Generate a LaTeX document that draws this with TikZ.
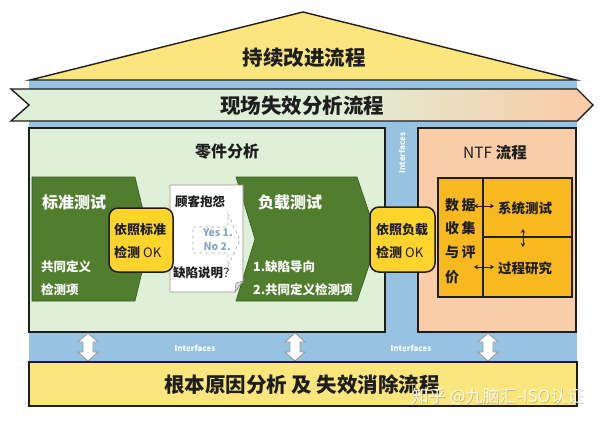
\documentclass[tikz,border=0pt]{standalone}
\usepackage{fontspec}
\setmainfont{Noto Sans CJK SC}
\usetikzlibrary{arrows.meta}
\definecolor{roofY}{RGB}{250,230,125}
\definecolor{bandB}{RGB}{150,195,226}
\definecolor{lgreen}{RGB}{223,240,216}
\definecolor{peach}{RGB}{248,205,168}
\definecolor{dgreen}{RGB}{80,126,46}
\definecolor{boxY}{RGB}{255,213,45}
\definecolor{ntfO}{RGB}{247,184,32}
\definecolor{ink}{RGB}{30,30,30}
\definecolor{yesno}{RGB}{135,165,200}
\definecolor{paperG}{RGB}{150,150,150}
\pgfdeclarehorizontalshading{bandshade}{100bp}{color(0bp)=(lgreen); color(25bp)=(lgreen); color(52bp)=(lgreen); color(73bp)=(peach); color(100bp)=(peach)}
\newcommand\fsz[1]{\fontsize{#1}{#1}\selectfont}
\begin{document}
\begin{tikzpicture}[x=1pt,y=-1pt,
  outl/.style={draw=ink, line width=1.4pt},
  chevron/.style={fill=dgreen, draw=dgreen!70!black, line width=0.6pt},
  ybox/.style={rounded corners=9pt, fill=boxY, draw=ink, line width=1.5pt},
  txt/.style={inner sep=0pt, text=ink},
  lt/.style={txt, anchor=west},
  wt/.style={inner sep=0pt, anchor=west, text=white, font=\bfseries\fsz{12.5}},
  big/.style={txt, font=\bfseries\fsz{20.5}},
  iface/.style={inner sep=0pt, text=white, font=\bfseries\fsz{8}},
  dbl/.style={fill=white, draw=paperG, line width=0.8pt},
  twoway/.style={{Stealth[length=4pt,width=4.5pt]}-{Stealth[length=4pt,width=4.5pt]}, line width=0.9pt, draw=ink}
]
\useasboundingbox (0,0) rectangle (600,424);
\fill[white] (0,0) rectangle (600,424);

% blue frame
\fill[bandB] (29,80) rectangle (577,362);

% roof
\path[outl, fill=roofY] (30,80) -- (303,12) -- (576,80) -- cycle;
\node[big] (roof) at (304,58) {持续改进流程};

% arrow band
\path[outl, shading=bandshade] (11,89) -- (577,89) -- (593,105) -- (577,121) -- (11,121) -- (29,105) -- cycle;
\node[big] (field) at (302,106) {现场失效分析流程};

% part analysis box
\path[outl, fill=lgreen] (29,128) rectangle (385,332);
\node[txt, font=\bfseries\fsz{16}] (parts) at (227,152) {零件分析};

% NTF box
\path[outl, fill=peach] (418,128) rectangle (576,332);
\node[txt, font=\fsz{15.5}] (ntf) at (495,153) {NTF {\bfseries 流程}};

% vertical interfaces
\node[iface, rotate=90] (ifv) at (402,153) {Interfaces};

% chevron 1
\path[chevron] (32,177) -- (135,177) -- (150,239) -- (135,301) -- (32,301) -- cycle;
\node[wt, font=\bfseries\fsz{16}] (std) at (42,202) {标准测试};
\node[wt] (c1a) at (41,267) {共同定义};
\node[wt] (c1b) at (41,290) {检测项};

% chevron 2
\path[chevron] (236,177) -- (357,177) -- (378,239) -- (357,301) -- (236,301) -- (255,239) -- cycle;
\node[wt, font=\bfseries\fsz{16}] (load) at (258,202) {负载测试};
\node[wt] (c2a) at (253,267) {1.缺陷导向};
\node[wt] (c2b) at (253,290) {2.共同定义检测项};

% paper box
\path[fill=white, draw=paperG, line width=0.8pt] (170,185) -- (243,185) -- (243,281) -- (235,292) -- (170,292) -- cycle;
\path[fill=white!85!black, draw=paperG, line width=0.6pt] (243,281) -- (236,283) -- (235,292) -- cycle;
\node[lt, font=\bfseries\fsz{12.5}] (cust) at (175,202) {顾客抱怨};
\node[lt, font=\bfseries\fsz{12.5}] (defect) at (173,273) {缺陷说明{\mdseries ？}};
\path[fill=white, draw=paperG!80, line width=0.7pt, dashed] (193,227) -- (228,227) -- (228,214) -- (240,240) -- (228,266) -- (228,253) -- (193,253) -- cycle;
\node[inner sep=0pt, anchor=east, text=yesno, font=\bfseries\fsz{10.5}] (yes) at (233,233) {Yes 1.};
\node[inner sep=0pt, anchor=east, text=yesno, font=\bfseries\fsz{10.5}] (no) at (231,247) {No 2.};

% yellow result boxes
\path[ybox] (109,208) rectangle (173,272);
\node[lt, font=\bfseries\fsz{13}] (r1a) at (114,230) {依照标准};
\node[lt, font=\fsz{13}] (r1b) at (114,252) {{\bfseries 检测} OK};
\path[ybox] (370,207) rectangle (435,272);
\node[lt, font=\bfseries\fsz{13}] (r2a) at (376,230) {依照负载};
\node[lt, font=\fsz{13}] (r2b) at (376,252) {{\bfseries 检测} OK};

% NTF inner grid
\path[fill=ntfO, draw=ink, line width=1.4pt] (438,178) rectangle (572,297);
\draw[ink, line width=1.4pt] (483,178) -- (483,297);
\draw[ink, line width=1.4pt] (483,237) -- (572,237);
\node[lt, font=\bfseries\fsz{14}] (d1) at (445,205) {数\,据};
\node[lt, font=\bfseries\fsz{14}] (d2) at (445,228) {收\,集};
\node[lt, font=\bfseries\fsz{14}] (d3) at (445,252) {与\,评};
\node[lt, font=\bfseries\fsz{14}] (d4) at (445,277) {价};
\node[txt, font=\bfseries\fsz{13.5}] (sys) at (525,208) {系统测试};
\node[txt, font=\bfseries\fsz{13.5}] (proc) at (525,268) {过程研究};
\coordinate (h1l) at (474,206); \coordinate (h1r) at (494,206);
\coordinate (h2l) at (474,267); \coordinate (h2r) at (494,267);
\coordinate (vt) at (523,229); \coordinate (vb) at (523,247);
\draw[twoway] (h1l) -- (h1r);
\draw[twoway] (h2l) -- (h2r);
\draw[twoway] (vt) -- (vb);

% bottom interfaces
\node[iface] (if1) at (195,348) {Interfaces};
\node[iface] (if2) at (411,348) {Interfaces};
\foreach \cx in {88,295,488} {
  \path[dbl] (\cx,333) -- (\cx+10,342) -- (\cx+5,342) -- (\cx+5,352) -- (\cx+10,352) -- (\cx,361) -- (\cx-10,352) -- (\cx-5,352) -- (\cx-5,342) -- (\cx-10,342) -- cycle;
}

% root cause box
\path[outl, fill=roofY] (29,362) rectangle (577,406);
\node[big] (root) at (302,385) {根本原因分析 及 失效消除流程};

% watermark
\node[inner sep=0pt, text=black, opacity=0.18, font=\fsz{17}] (wm0) at (498.8,397.8) {知乎 @九脑汇-ISO认证};
\node[inner sep=0pt, text=white, opacity=0.9, font=\fsz{17}] (wm) at (498,397) {知乎 @九脑汇-ISO认证};
\end{tikzpicture}
\end{document}
